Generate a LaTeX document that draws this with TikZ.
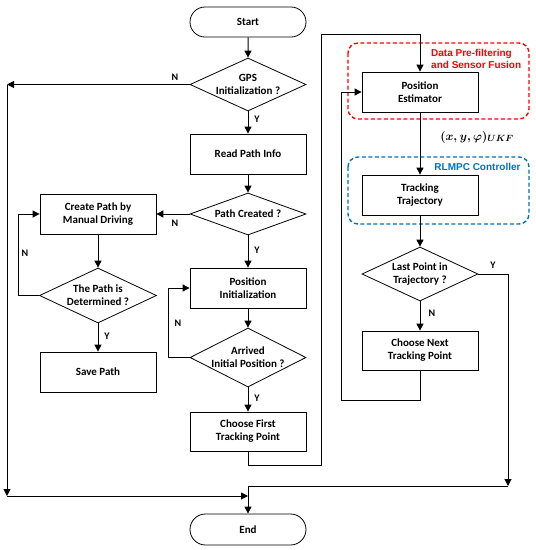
\documentclass[tikz,border=0pt]{standalone}
\usepackage{fontspec}
\setmainfont{Carlito}
\newfontfamily\arialf{Liberation Sans}
\usepackage{amsmath}
\usetikzlibrary{shapes.geometric,shapes.misc,arrows.meta}
\definecolor{rlblue}{RGB}{0,112,192}
\definecolor{dred}{RGB}{255,0,0}
\tikzset{
  lbl/.style={align=center,font=\fontsize{11}{13}\selectfont\bfseries,inner sep=0pt},
  box/.style={draw,line width=0.8pt,minimum width=116pt,minimum height=40pt,inner sep=0pt,lbl},
  dia/.style={diamond,draw,line width=0.8pt,minimum width=116pt,inner sep=0pt},
  term/.style={rounded rectangle,draw,line width=0.8pt,minimum width=116pt,minimum height=30pt,inner sep=0pt,lbl},
  arr/.style={-{Triangle[length=7pt,width=7pt]},line width=1pt},
  ln/.style={line width=1pt},
  yn/.style={font=\fontsize{10}{12}\selectfont\bfseries,inner sep=0pt},
  grp/.style={rounded corners=10pt,line width=1.4pt,dash pattern=on 4pt off 2.5pt},
  mathlbl/.style={font=\fontsize{12.5}{14}\selectfont\boldmath,inner sep=0pt}
}
\begin{document}
\begin{tikzpicture}[x=1pt,y=-1pt]
\useasboundingbox (0,0) rectangle (536,550);
% group frames
\draw[grp,dred] (348,43) rectangle (529,119);
\draw[grp,rlblue] (348,157) rectangle (529,224);
\node[anchor=west,align=left,text=dred,font=\arialf\fontsize{10}{12}\selectfont\bfseries,inner sep=0pt] (lred) at (431,58.5) {Data Pre-filtering\\and Sensor Fusion};
\node[text=rlblue,font=\arialf\fontsize{10}{12}\selectfont\bfseries,inner sep=0pt] (lblue) at (477.5,167) {RLMPC Controller};
% nodes
\node[term] (start) at (248,22) {Start};
\node[dia,minimum height=53pt,label={[lbl]center:GPS\\Initialization ?}] (gps) at (248,84.5) {};
\node[box] (read) at (248,154) {Read Path Info};
\node[dia,minimum height=42pt,label={[lbl]center:Path Created ?}] (pc) at (248,214) {};
\node[box] (create) at (98,214) {Create Path by\\Manual Driving};
\node[dia,minimum height=55pt,minimum width=117pt,label={[lbl]center:The Path is\\Determined ?}] (det) at (98,295.5) {};
\node[box] (save) at (98,372) {Save Path};
\node[box] (posinit) at (248,288) {Position\\Initialization};
\node[dia,minimum height=59pt,label={[lbl]center:Arrived\\Initial Position ?}] (arrv) at (248,357.5) {};
\node[box,minimum height=39pt] (first) at (248,431.5) {Choose First\\Tracking Point};
\node[term,minimum height=31pt] (end) at (248,529.5) {End};
\node[box] (est) at (420,92) {Position\\Estimator};
\node[box] (track) at (420,195) {Tracking\\Trajectory};
\node[dia,minimum height=54pt,label={[lbl]center:Last Point in\\Trajectory ?}] (last) at (420,274) {};
\node[box,minimum height=39pt] (next) at (420,350.5) {Choose Next\\Tracking Point};
\node[mathlbl] (ukf) at (477,137) {$(x,y,\varphi)_{UKF}$};
% helper coordinates
\coordinate (nL) at (7,84.5);
\coordinate (nB) at (7,496);
\coordinate (jn) at (248,496);
\coordinate (rB) at (508,486);
\coordinate (jr) at (248,486);
\coordinate (detL) at (18,295.5);
\coordinate (arrL) at (168,357.5);
\coordinate (f1) at (248,465);
\coordinate (f2) at (321,465);
\coordinate (f3) at (321,34);
\coordinate (n1) at (420,400);
\coordinate (n2) at (341,400);
% connectors
\draw[arr] (start) -- (gps);
\draw[arr] (gps.west) -- (nL);
\draw[arr] (nL) -- (nB);
\draw[arr] (nB) -- (jn);
\draw[arr] (gps) -- (read);
\draw[arr] (read) -- (pc);
\draw[arr] (pc.west) -- (create.east);
\draw[arr] (pc) -- (posinit);
\draw[arr] (create) -- (det);
\draw[arr] (det.west) -- (detL) |- (create.west);
\draw[arr] (det) -- (save);
\draw[arr] (posinit) -- (arrv);
\draw[arr] (arrv.west) -- (arrL) |- (posinit.west);
\draw[arr] (arrv) -- (first);
\draw[arr] (first.south) -- (f1) -- (f2) -- (f3) -| (est.north);
\draw[arr] (est) -- (track);
\draw[arr] (track) -- (last);
\draw[arr] (last) -- (next);
\draw[arr] (next.south) -- (n1) -- (n2) |- (est.west);
\draw[arr] (last.east) -| (rB);
\draw[ln] (rB) -- (jr);
\draw[arr] (jr) -- (end.north);
% Y/N labels
\node[yn] (lgpsN) at (175,77) {N};
\node[yn] (lgpsY) at (257,119) {Y};
\node[yn] (lpcN) at (175,223) {N};
\node[yn] (lpcY) at (257,250) {Y};
\node[yn] (ldetN) at (25,253) {N};
\node[yn] (ldetY) at (107,336) {Y};
\node[yn] (larrN) at (178,323) {N};
\node[yn] (larrY) at (257,398) {Y};
\node[yn] (llastN) at (432,313) {N};
\node[yn] (llastY) at (493,265) {Y};
\end{tikzpicture}
\end{document}
